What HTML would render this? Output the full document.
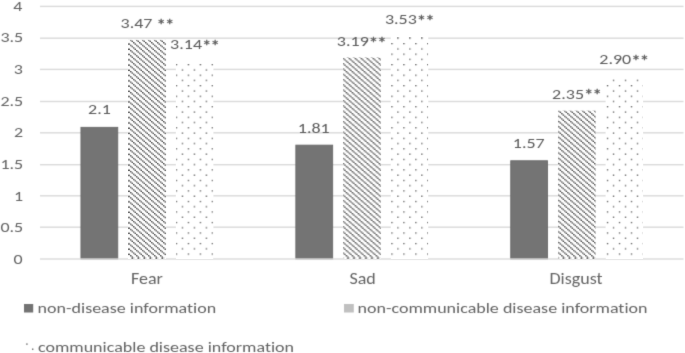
<!DOCTYPE html>
<html><head><meta charset="utf-8"><style>
html,body{margin:0;padding:0;background:#fff;}
svg{display:block;}
text{font-family:Carlito,"Liberation Sans",sans-serif;font-variant-ligatures:none;font-feature-settings:"liga" 0,"clig" 0;font-size-adjust:0.4775;}
</style></head><body>
<svg width="685" height="353" viewBox="0 0 685 353">
<rect width="685" height="353" fill="#fff"/>
<defs>
<pattern id="hatch" patternUnits="userSpaceOnUse" x="127.05" y="0" width="5.988" height="5.260">
<rect width="5.988" height="5.260" fill="#fff"/><rect x="0.000" y="0.000" width="1.497" height="1.315" fill="#4a4a4a"/><rect x="1.497" y="1.315" width="1.497" height="1.315" fill="#4a4a4a"/><rect x="2.994" y="2.630" width="1.497" height="1.315" fill="#4a4a4a"/><rect x="4.491" y="3.945" width="1.497" height="1.315" fill="#4a4a4a"/>
</pattern>
<pattern id="dots" patternUnits="userSpaceOnUse" x="175.725" y="64.050" width="11.975" height="10.52">
<rect width="11.975" height="10.52" fill="#fff"/>
<rect x="0" y="0" width="1.35" height="1.3" fill="#606060"/>
<rect x="5.987" y="5.260" width="1.35" height="1.3" fill="#606060"/>
</pattern>
</defs>
<filter id="soft" x="0" y="0" width="1" height="1" color-interpolation-filters="sRGB"><feConvolveMatrix order="3" kernelMatrix="0.0144 0.0912 0.0144 0.0912 0.5776 0.0912 0.0144 0.0912 0.0144" divisor="1" edgeMode="duplicate"/></filter>
<g filter="url(#soft)">
<rect width="685" height="353" fill="#fff"/>
<rect x="40.0" y="226.50" width="643.5" height="1.4" fill="#dadada"/>
<rect x="40.0" y="195.10" width="643.5" height="1.4" fill="#dadada"/>
<rect x="40.0" y="164.00" width="643.5" height="1.4" fill="#dadada"/>
<rect x="40.0" y="132.10" width="643.5" height="1.4" fill="#dadada"/>
<rect x="40.0" y="100.80" width="643.5" height="1.4" fill="#dadada"/>
<rect x="40.0" y="68.70" width="643.5" height="1.4" fill="#dadada"/>
<rect x="40.0" y="37.50" width="643.5" height="1.4" fill="#dadada"/>
<rect x="40.0" y="5.70" width="643.5" height="1.4" fill="#dadada"/>
<text x="13.38" y="10.53" font-size="14.1" textLength="9.12" lengthAdjust="spacingAndGlyphs" fill="#636363">4</text>
<text x="0.42" y="42.20" font-size="14.1" textLength="22.79" lengthAdjust="spacingAndGlyphs" fill="#636363">3.5</text>
<text x="13.74" y="73.87" font-size="14.1" textLength="9.12" lengthAdjust="spacingAndGlyphs" fill="#636363">3</text>
<text x="0.42" y="105.54" font-size="14.1" textLength="22.79" lengthAdjust="spacingAndGlyphs" fill="#636363">2.5</text>
<text x="13.92" y="137.21" font-size="14.1" textLength="9.12" lengthAdjust="spacingAndGlyphs" fill="#636363">2</text>
<text x="0.42" y="168.88" font-size="14.1" textLength="22.79" lengthAdjust="spacingAndGlyphs" fill="#636363">1.5</text>
<text x="13.92" y="200.55" font-size="14.1" textLength="9.12" lengthAdjust="spacingAndGlyphs" fill="#636363">1</text>
<text x="0.42" y="232.22" font-size="14.1" textLength="22.79" lengthAdjust="spacingAndGlyphs" fill="#636363">0.5</text>
<text x="13.56" y="263.89" font-size="14.1" textLength="9.12" lengthAdjust="spacingAndGlyphs" fill="#636363">0</text>
<rect x="80.95" y="127.35" width="36.80" height="131.65" fill="#747474" stroke="#6a6a6a" stroke-width="0.9"/>
<text x="88.07" y="114.41" font-size="15.1" textLength="22.79" lengthAdjust="spacingAndGlyphs" fill="#5a5a5a">2.1</text>
<rect x="128.25" y="39.87" width="37.70" height="219.13" fill="#fff"/>
<text x="120.54" y="28.16" font-size="15.1" textLength="35.98" lengthAdjust="spacingAndGlyphs" fill="#5a5a5a" xml:space="preserve">3.47 </text><text x="156.47" y="29.85" font-size="17.0" textLength="9.46" lengthAdjust="spacingAndGlyphs" fill="#585858" stroke="#585858" stroke-width="0.3">*</text><text x="164.97" y="29.85" font-size="17.0" textLength="9.46" lengthAdjust="spacingAndGlyphs" fill="#585858" stroke="#585858" stroke-width="0.3">*</text>
<rect x="176.00" y="60.71" width="37.20" height="198.29" fill="#fff"/>
<text x="170.11" y="48.96" font-size="15.1" textLength="31.91" lengthAdjust="spacingAndGlyphs" fill="#5a5a5a" xml:space="preserve">3.14</text><text x="201.97" y="50.65" font-size="17.0" textLength="9.46" lengthAdjust="spacingAndGlyphs" fill="#585858" stroke="#585858" stroke-width="0.3">*</text><text x="210.47" y="50.65" font-size="17.0" textLength="9.46" lengthAdjust="spacingAndGlyphs" fill="#585858" stroke="#585858" stroke-width="0.3">*</text>
<text x="131.02" y="283.50" font-size="15.6" textLength="31.86" lengthAdjust="spacingAndGlyphs" fill="#636363">Fear</text>
<rect x="295.85" y="145.15" width="36.80" height="113.85" fill="#747474" stroke="#6a6a6a" stroke-width="0.9"/>
<text x="297.82" y="133.36" font-size="15.1" textLength="31.91" lengthAdjust="spacingAndGlyphs" fill="#5a5a5a">1.81</text>
<rect x="343.15" y="57.55" width="37.70" height="201.45" fill="#fff"/>
<text x="336.86" y="46.06" font-size="15.1" textLength="31.91" lengthAdjust="spacingAndGlyphs" fill="#5a5a5a" xml:space="preserve">3.19</text><text x="368.72" y="47.75" font-size="17.0" textLength="9.46" lengthAdjust="spacingAndGlyphs" fill="#585858" stroke="#585858" stroke-width="0.3">*</text><text x="377.22" y="47.75" font-size="17.0" textLength="9.46" lengthAdjust="spacingAndGlyphs" fill="#585858" stroke="#585858" stroke-width="0.3">*</text>
<rect x="390.90" y="36.08" width="37.20" height="222.92" fill="#fff"/>
<text x="384.91" y="24.01" font-size="15.1" textLength="31.91" lengthAdjust="spacingAndGlyphs" fill="#5a5a5a" xml:space="preserve">3.53</text><text x="416.77" y="25.70" font-size="17.0" textLength="9.46" lengthAdjust="spacingAndGlyphs" fill="#585858" stroke="#585858" stroke-width="0.3">*</text><text x="425.27" y="25.70" font-size="17.0" textLength="9.46" lengthAdjust="spacingAndGlyphs" fill="#585858" stroke="#585858" stroke-width="0.3">*</text>
<text x="349.42" y="283.50" font-size="15.6" textLength="26.35" lengthAdjust="spacingAndGlyphs" fill="#636363">Sad</text>
<rect x="510.75" y="160.75" width="36.80" height="98.25" fill="#747474" stroke="#6a6a6a" stroke-width="0.9"/>
<text x="512.78" y="147.86" font-size="15.1" textLength="31.91" lengthAdjust="spacingAndGlyphs" fill="#5a5a5a">1.57</text>
<rect x="558.05" y="110.60" width="37.70" height="148.40" fill="#fff"/>
<text x="552.11" y="98.71" font-size="15.1" textLength="31.91" lengthAdjust="spacingAndGlyphs" fill="#5a5a5a" xml:space="preserve">2.35</text><text x="583.97" y="100.41" font-size="17.0" textLength="9.46" lengthAdjust="spacingAndGlyphs" fill="#585858" stroke="#585858" stroke-width="0.3">*</text><text x="592.47" y="100.41" font-size="17.0" textLength="9.46" lengthAdjust="spacingAndGlyphs" fill="#585858" stroke="#585858" stroke-width="0.3">*</text>
<rect x="605.80" y="75.87" width="37.20" height="183.13" fill="#fff"/>
<text x="599.31" y="64.11" font-size="15.1" textLength="31.91" lengthAdjust="spacingAndGlyphs" fill="#5a5a5a" xml:space="preserve">2.90</text><text x="631.17" y="65.81" font-size="17.0" textLength="9.46" lengthAdjust="spacingAndGlyphs" fill="#585858" stroke="#585858" stroke-width="0.3">*</text><text x="639.67" y="65.81" font-size="17.0" textLength="9.46" lengthAdjust="spacingAndGlyphs" fill="#585858" stroke="#585858" stroke-width="0.3">*</text>
<text x="549.50" y="283.50" font-size="15.6" textLength="53.04" lengthAdjust="spacingAndGlyphs" fill="#636363">Disgust</text>
<rect x="40.0" y="258.30" width="643.5" height="1.4" fill="#dadada"/>
<rect x="24" y="304" width="9.2" height="8.5" fill="#737373"/>
<text x="37.64" y="313.10" font-size="14.8" textLength="178.50" lengthAdjust="spacingAndGlyphs" fill="#636363">non-disease information</text>
<rect x="344" y="304" width="9.8" height="8.5" fill="#c0c0c0"/>
<text x="357.54" y="313.10" font-size="14.8" textLength="289.95" lengthAdjust="spacingAndGlyphs" fill="#636363">non-communicable disease information</text>
<rect x="26.2" y="343.45" width="1.4" height="1.3" fill="#5a5a5a"/><rect x="32.0" y="348.55" width="1.4" height="1.3" fill="#5a5a5a"/>
<text x="37.96" y="351.60" font-size="14.8" textLength="256.04" lengthAdjust="spacingAndGlyphs" fill="#636363">communicable disease information</text>
</g>
<filter id="soft2" x="0" y="0" width="1" height="1" color-interpolation-filters="sRGB"><feConvolveMatrix order="3" kernelMatrix="0.0064 0.0672 0.0064 0.0672 0.7056 0.0672 0.0064 0.0672 0.0064" divisor="1" edgeMode="duplicate"/></filter>
<g filter="url(#soft2)">
<rect x="128.25" y="39.87" width="37.70" height="218.43" fill="url(#hatch)"/>
<rect x="176.00" y="62.21" width="37.20" height="196.09" fill="url(#dots)"/>
<rect x="343.15" y="57.55" width="37.70" height="200.75" fill="url(#hatch)"/>
<rect x="390.90" y="37.58" width="37.20" height="220.72" fill="url(#dots)"/>
<rect x="558.05" y="110.60" width="37.70" height="147.70" fill="url(#hatch)"/>
<rect x="605.80" y="77.37" width="37.20" height="180.94" fill="url(#dots)"/>
</g>
</svg>
</body></html>
